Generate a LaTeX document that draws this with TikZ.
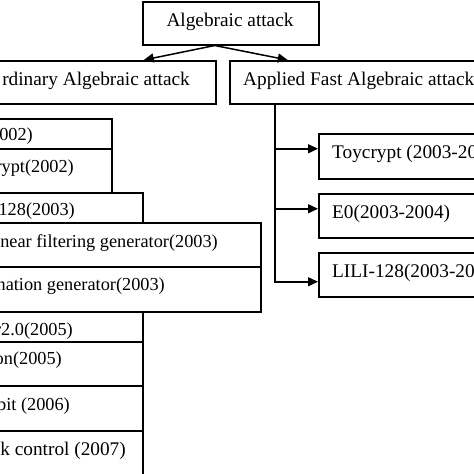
\documentclass[tikz,border=0pt]{standalone}
\usepackage{fontspec}
\setmainfont{Liberation Serif}
\usetikzlibrary{arrows.meta}
\begin{document}
\begin{tikzpicture}[x=1pt,y=-1pt,
  box/.style={draw, line width=1.5pt, inner sep=0pt, anchor=north west},
  lbl/.style={inner sep=0pt, font=\fontsize{19.3}{23}\selectfont},
  lsm/.style={inner sep=0pt, font=\fontsize{18.3}{22}\selectfont, anchor=base east},
  conn/.style={line width=1.5pt},
  arr/.style={conn, -{Triangle[length=10pt,width=9pt]}}]
\useasboundingbox (0,0) rectangle (474,474);
\clip (0,0) rectangle (474,474);
\fill[white] (0,0) rectangle (474,474);
% boxes
\node[box, minimum width=176pt, minimum height=43pt] (top) at (142,1) {};
\node[box, minimum width=225pt, minimum height=43pt] (ord) at (-10,60) {};
\node[box, minimum width=260pt, minimum height=43pt] (app) at (229,60) {};
\node[box, minimum width=170pt, minimum height=45pt] (toy) at (318,133) {};
\node[box, minimum width=170pt, minimum height=44pt] (e0) at (318,193) {};
\node[box, minimum width=170pt, minimum height=44pt] (lili) at (318,252) {};
\node[box, minimum width=121pt, minimum height=30pt] (b1) at (-10,118) {};
\node[box, minimum width=121pt, minimum height=44pt] (b2) at (-10,148) {};
\node[box, minimum width=152pt, minimum height=30pt] (b3) at (-10,192) {};
\node[box, minimum width=270pt, minimum height=44pt] (b4) at (-10,222) {};
\node[box, minimum width=270pt, minimum height=45pt] (b5) at (-10,266) {};
\node[box, minimum width=152pt, minimum height=30pt] (b6) at (-10,311) {};
\node[box, minimum width=152pt, minimum height=44pt] (b7) at (-10,341) {};
\node[box, minimum width=152pt, minimum height=45pt] (b8) at (-10,385) {};
\node[box, minimum width=152pt, minimum height=60pt] (b9) at (-10,430) {};
% texts
\node[lbl, anchor=base] (ttop) at (230,26) {Algebraic attack};
\node[lbl, anchor=base east] (tord) at (190,85) {rdinary Algebraic attack};
\node[lbl, anchor=base west] (tapp) at (243,85) {Applied Fast Algebraic attack};
\node[lbl, anchor=base west] (ttoy) at (332,158) {Toycrypt (2003-20};
\node[lbl, anchor=base west] (te0) at (332,218) {E0(2003-2004)};
\node[lbl, anchor=base west] (tlili) at (332,277) {LILI-128(2003-20};
\node[lsm] (t1) at (33,140) {002)};
\node[lsm] (t2) at (74,172) {rypt(2002)};
\node[lsm] (t3) at (75,215) {128(2003)};
\node[lsm] (t4) at (218,247) {near filtering generator(2003)};
\node[lsm] (t5) at (165,290) {nation generator(2003)};
\node[lsm] (t6) at (73,335) {r2.0(2005)};
\node[lsm] (t7) at (62,364) {on(2005)};
\node[lsm] (t8) at (70,410) {bit (2006)};
\node[lsm, font=\fontsize{19.3}{23}\selectfont] (t9) at (126,455) {k control (2007)};
% connectors
\coordinate (src) at ([xshift=-16pt]top.south);
\draw[arr] (src) -- ([xshift=40.5pt]ord.north);
\draw[arr] (src) -- ([xshift=-72pt]app.north);
\coordinate (trunk) at ([xshift=-85pt]app.south);
\coordinate (a1) at ([yshift=7.5pt]toy.west);
\coordinate (a2) at ([yshift=7pt]e0.west);
\coordinate (a3) at ([yshift=-7pt]lili.west);
\draw[arr] (trunk) |- (a3);
\draw[arr] (trunk |- a1) -- (a1);
\draw[arr] (trunk |- a2) -- (a2);
\end{tikzpicture}
\end{document}
